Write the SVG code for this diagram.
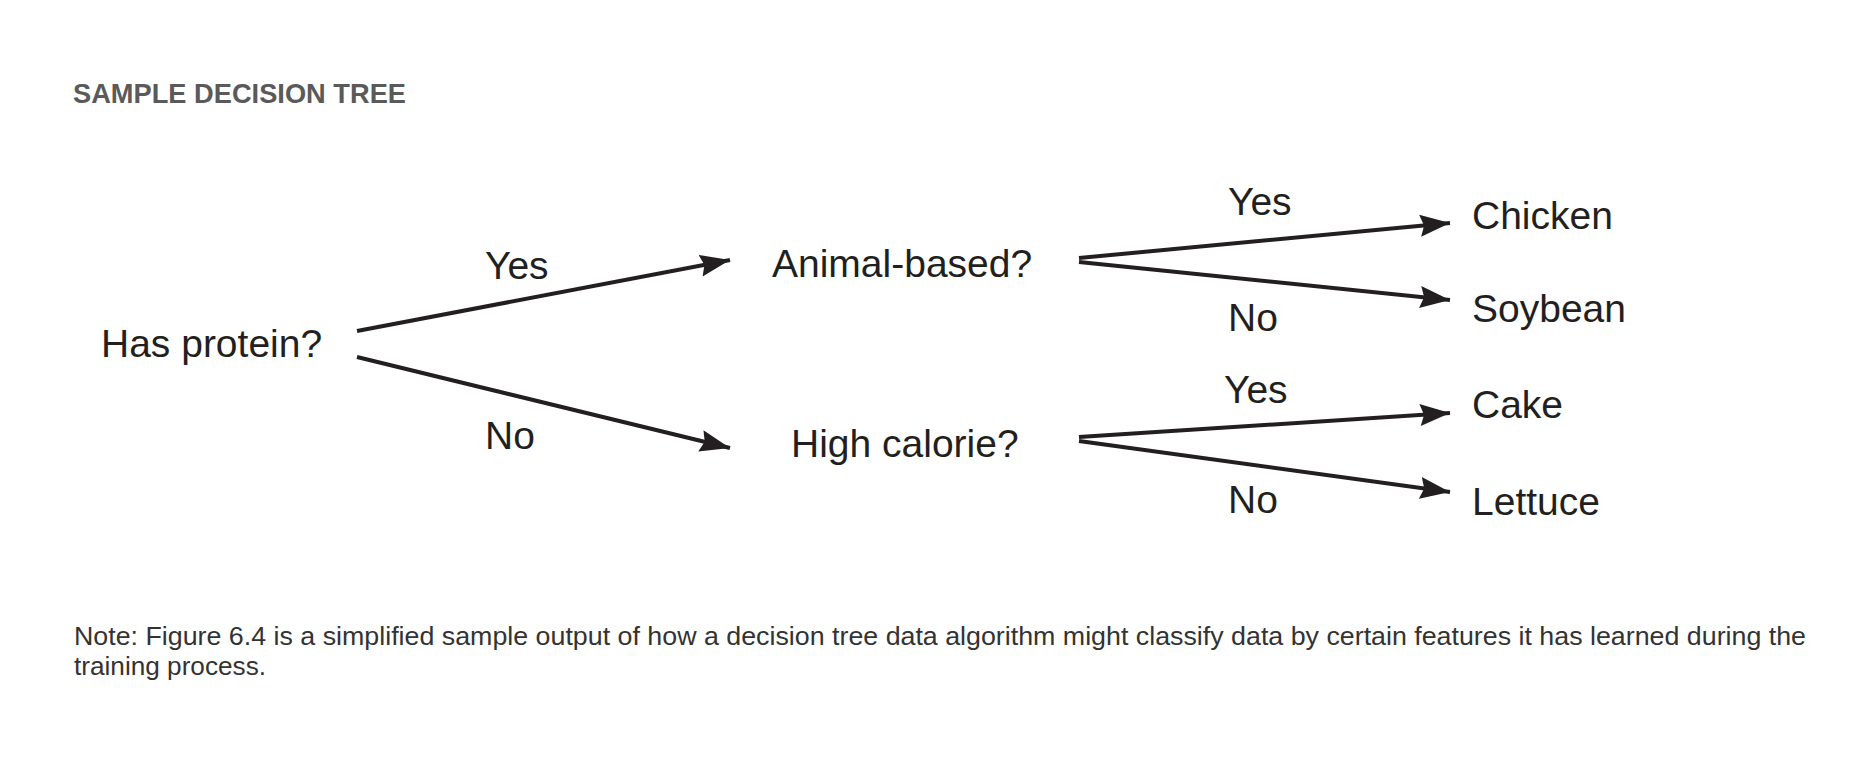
<svg xmlns="http://www.w3.org/2000/svg" width="1876" height="758" viewBox="0 0 1876 758">
<style>
.t{font-family:"Liberation Sans",Arial,sans-serif;font-size:39px;fill:#231f20}
.title{font-family:"Liberation Sans",Arial,sans-serif;font-size:28px;font-weight:bold;fill:#5a5a5a}
.note{font-family:"Liberation Sans",Arial,sans-serif;font-size:25.5px;fill:#333}
.c{stroke:#231f20;stroke-width:4;fill:none;marker-end:url(#ah)}
</style>
<defs>
<marker id="ah" markerUnits="userSpaceOnUse" markerWidth="31" markerHeight="24" refX="30" refY="11" orient="auto" viewBox="0 0 31 24">
<path d="M0,0 L30,11 L0,22 L4,11 z" fill="#231f20"/>
</marker>
</defs>
<rect width="1876" height="758" fill="#fff"/>
<text class="title" x="73" y="103" textLength="333" lengthAdjust="spacingAndGlyphs">SAMPLE DECISION TREE</text>
<g id="connectors">
<line class="c" x1="357" y1="331" x2="730" y2="260"/>
<line class="c" x1="357" y1="357" x2="730" y2="448"/>
<line class="c" x1="1079" y1="258" x2="1450" y2="223"/>
<line class="c" x1="1079" y1="262" x2="1450" y2="300"/>
<line class="c" x1="1079" y1="437" x2="1450" y2="413"/>
<line class="c" x1="1079" y1="441" x2="1450" y2="492"/>
</g>
<g id="edge-labels">
<text class="t" x="485" y="279">Yes</text>
<text class="t" x="485" y="449">No</text>
<text class="t" x="1228" y="215">Yes</text>
<text class="t" x="1228" y="331">No</text>
<text class="t" x="1224" y="403">Yes</text>
<text class="t" x="1228" y="513">No</text>
</g>
<g id="n-protein"><text class="t" x="101" y="357">Has protein?</text></g>
<g id="n-animal"><text class="t" x="772" y="277">Animal-based?</text></g>
<g id="n-calorie"><text class="t" x="791" y="457">High calorie?</text></g>
<g id="n-chicken"><text class="t" x="1472" y="229">Chicken</text></g>
<g id="n-soybean"><text class="t" x="1472" y="322">Soybean</text></g>
<g id="n-cake"><text class="t" x="1472" y="418">Cake</text></g>
<g id="n-lettuce"><text class="t" x="1472" y="515">Lettuce</text></g>
<text class="note" x="74" y="645" textLength="1732" lengthAdjust="spacingAndGlyphs">Note: Figure 6.4 is a simplified sample output of how a decision tree data algorithm might classify data by certain features it has learned during the</text>
<text class="note" x="74" y="675" textLength="192" lengthAdjust="spacingAndGlyphs">training process.</text>
</svg>
